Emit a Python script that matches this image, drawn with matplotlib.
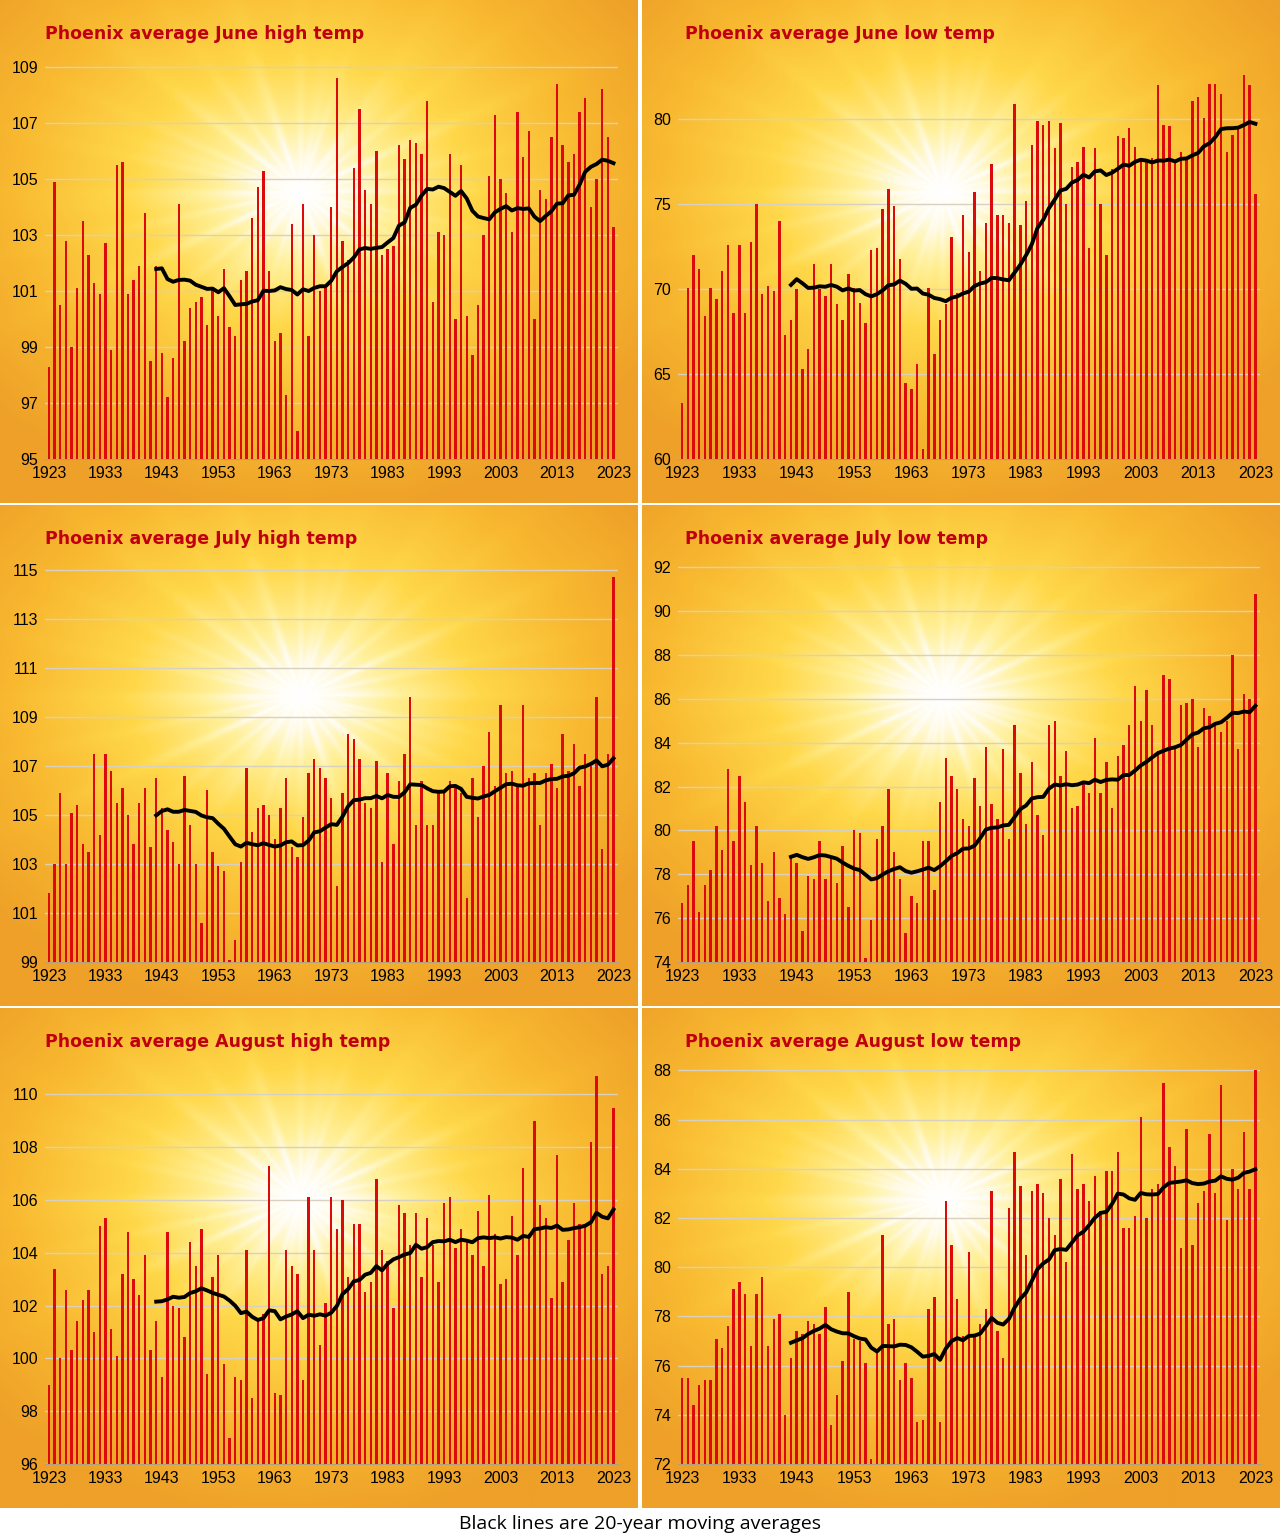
import numpy as np
import matplotlib
matplotlib.use("Agg")
import matplotlib.pyplot as plt
from matplotlib.colors import LinearSegmentedColormap

years = list(range(1923, 2024))

june_high = [98.3,104.9,100.5,102.8,99.0,101.1,103.5,102.3,101.3,100.9,
             102.7,98.9,105.5,105.6,100.9,101.4,101.9,103.8,98.5,101.9,
             98.8,97.2,98.6,104.1,99.2,100.4,100.6,100.8,99.8,101.1,
             100.1,101.8,99.7,99.4,101.4,101.7,103.6,104.7,105.3,101.7,
             99.2,99.5,97.3,103.4,96.0,104.1,99.4,103.0,101.0,101.1,
             104.0,108.6,102.8,102.1,105.4,107.5,104.6,104.1,106.0,102.3,
             102.5,102.6,106.2,105.7,106.4,106.3,105.9,107.8,100.6,103.1,
             103.0,105.9,100.0,105.5,100.1,98.7,100.5,103.0,105.1,107.3,
             105.0,104.5,103.1,107.4,105.8,106.7,100.0,104.6,104.3,106.5,
             108.4,106.2,105.6,105.9,107.4,107.9,104.0,105.0,108.2,106.5,103.3]
june_low = [63.3,70.1,72.0,71.2,68.4,70.1,69.4,71.1,72.6,68.6,
            72.6,68.6,72.8,75.0,69.7,70.2,69.9,74.0,67.3,68.2,
            70.0,65.3,66.5,71.5,70.0,69.6,71.5,69.1,68.2,70.9,
            70.1,69.2,68.0,72.3,72.4,74.7,75.9,74.9,71.8,64.5,
            64.1,65.6,60.6,70.1,66.2,68.2,69.1,73.1,69.8,74.4,
            72.2,75.7,71.1,73.9,77.4,74.4,74.4,73.9,80.9,73.8,
            75.2,78.5,79.9,79.7,79.9,78.3,79.8,75.0,77.2,77.5,
            78.4,72.4,78.3,75.0,72.0,77.1,79.0,78.9,79.5,78.4,
            77.7,77.5,77.7,82.0,79.7,79.6,77.6,78.1,77.6,81.1,
            81.3,80.1,82.1,82.1,81.5,78.1,79.1,79.5,82.6,82.0,75.6]
july_high = [101.8,103.0,105.9,103.0,105.1,105.4,103.8,103.5,107.5,104.2,
             107.5,106.8,105.5,106.1,105.0,103.8,105.5,106.1,103.7,106.5,
             105.3,104.4,103.9,103.0,106.6,104.6,103.0,100.6,106.0,103.5,
             102.9,102.7,99.1,99.9,103.1,106.9,104.3,105.3,105.4,105.0,
             104.0,105.3,106.5,103.7,103.3,104.9,106.7,107.3,106.9,106.5,
             105.7,102.1,105.9,108.3,108.1,107.3,105.5,105.3,107.2,103.1,
             106.7,103.8,106.4,107.5,109.8,104.6,106.4,104.6,104.6,106.0,
             105.9,106.4,106.2,105.9,101.6,106.5,104.9,107.0,108.4,106.2,
             109.5,106.7,106.8,106.2,109.5,106.5,106.7,104.6,106.7,107.1,
             106.1,108.3,106.8,107.9,106.2,107.5,107.0,109.8,103.6,107.5,114.7]
july_low = [76.7,77.5,79.5,76.3,77.5,78.2,80.2,79.1,82.8,79.5,
            82.5,81.3,78.4,80.2,78.5,76.8,79.0,76.9,76.2,78.8,
            78.5,75.4,77.9,77.8,79.5,77.8,78.8,77.6,79.3,76.5,
            80.0,79.9,74.2,75.9,79.6,80.2,81.9,79.0,77.8,75.3,
            77.0,76.7,79.5,79.5,77.3,81.3,83.3,82.5,81.9,80.5,
            80.2,82.4,81.1,83.8,81.2,80.5,83.7,79.6,84.8,82.6,
            80.3,83.1,80.7,79.8,84.8,85.0,82.5,83.6,81.0,81.1,
            82.2,81.7,84.2,81.7,83.1,81.0,83.4,83.9,84.8,86.6,
            85.0,86.4,84.8,83.6,87.1,86.9,83.7,85.7,85.8,86.0,
            83.8,85.6,85.2,84.8,84.5,85.0,88.0,83.7,86.2,86.0,90.8]
aug_high = [99.0,103.4,100.0,102.6,100.3,101.4,102.2,102.6,101.0,105.0,
            105.3,101.1,100.1,103.2,104.8,103.0,102.4,103.9,100.3,101.4,
            99.3,104.8,102.0,101.9,100.8,104.4,103.5,104.9,99.4,103.1,
            103.9,99.8,97.0,99.3,99.2,104.1,98.5,101.5,101.7,107.3,
            98.7,98.6,104.1,103.5,103.2,99.2,106.1,104.1,100.5,102.1,
            106.1,104.9,106.0,103.1,105.1,105.1,102.5,102.9,106.8,104.1,
            103.7,101.9,105.8,105.5,104.3,105.5,103.1,105.3,104.3,102.9,
            105.9,106.1,104.2,104.9,104.4,103.9,105.6,103.5,106.2,104.7,
            102.8,103.0,105.4,103.9,107.2,104.7,109.0,105.8,105.3,102.3,
            107.7,102.9,104.5,105.9,105.1,105.0,108.2,110.7,103.2,103.5,109.5]
aug_low = [75.5,75.5,74.4,75.2,75.4,75.4,77.1,76.7,77.6,79.1,
           79.4,78.9,76.8,78.9,79.6,76.8,77.9,78.1,74.0,76.3,
           77.4,77.3,77.8,77.7,77.3,78.4,73.6,74.8,76.2,79.0,
           77.1,77.0,76.1,72.2,76.5,81.3,77.7,77.9,75.4,76.1,
           75.5,73.7,73.8,78.3,78.8,73.7,82.7,80.9,78.7,77.2,
           80.6,77.3,77.7,78.3,83.1,77.4,76.3,82.4,84.7,83.3,
           80.5,83.1,83.4,83.0,82.0,81.3,83.6,80.2,84.6,83.2,
           83.4,82.7,83.7,82.3,83.9,83.9,84.7,81.6,81.6,82.1,
           86.1,82.0,83.2,83.4,87.5,84.9,84.1,80.8,85.6,80.9,
           82.6,83.1,85.4,83.0,87.4,81.9,84.0,83.2,85.5,83.2,88.0]

titles = ["Phoenix average June high temp", "Phoenix average June low temp",
          "Phoenix average July high temp", "Phoenix average July low temp",
          "Phoenix average August high temp", "Phoenix average August low temp"]
series = [june_high, june_low, july_high, july_low, aug_high, aug_low]
ylims = [(95, 109.25), (60, 83.5), (99, 115.2), (74, 92.1), (96, 111), (72, 88.1)]
yticks = [np.arange(95, 110, 2), np.arange(60, 81, 5), np.arange(99, 116, 2),
          np.arange(74, 93, 2), np.arange(96, 111, 2), np.arange(72, 89, 2)]
xticks = list(range(1923, 2024, 10))

W, H = 1280, 1540
fig = plt.figure(figsize=(W/100, H/100), dpi=100)
fig.patch.set_facecolor("white")

cmap = LinearSegmentedColormap.from_list("sun", [
    (0.0, "#ffffff"), (0.08, "#fffbe8"), (0.2, "#fff09a"),
    (0.4, "#ffd84a"), (0.7, "#f8b830"), (1.0, "#eea028")])

panel_w = [(0, 638), (642, 1280)]
panel_h = [(0, 503), (505, 1006), (1008, 1508)]
left_off = [45, 36]
title_x = [45, 43]

yy, xx = np.mgrid[0:300, 0:380]
for i in range(6):
    r, c = divmod(i, 2)
    x0, x1 = panel_w[c]
    y0, y1 = panel_h[r]
    bg = fig.add_axes([x0/W, 1-y1/H, (x1-x0)/W, (y1-y0)/H])
    cx, cy = 0.47*380, 0.38*300
    dx, dy = (xx-cx)/380, (yy-cy)/300
    d = np.sqrt(dx**2 + dy**2)
    ang = np.arctan2(dy, dx)
    rays = 0.05*np.cos(ang*12)**8 + 0.04*np.cos(ang*7+0.5)**10
    v = np.clip(d*1.55 - rays*(1-np.clip(d*1.3, 0, 1)), 0, 1)
    bg.imshow(v, cmap=cmap, vmin=0, vmax=1, aspect="auto", extent=[0, 1, 0, 1])
    bg.axis("off")

    ph = y1-y0
    lo_px = left_off[c]
    ax = fig.add_axes([(x0+lo_px)/W, 1-(y1-44)/H, (x1-x0-lo_px-20)/W, (ph-44-60)/H])
    ax.patch.set_alpha(0)
    vals = np.array(series[i])
    lo = ylims[i][0]
    ax.bar(years, vals-lo, bottom=lo, width=0.42, color="#dc0a0a", zorder=3)
    ma = np.convolve(vals, np.ones(20)/20, mode="valid")
    ax.plot(years[19:], ma, color="black", lw=2.8, zorder=4)
    ax.set_ylim(*ylims[i])
    ax.set_xlim(1922.3, 2023.8)
    ax.set_yticks(yticks[i])
    ax.set_xticks(xticks)
    ax.grid(axis="y", color="#d8d0c0", lw=1, zorder=0)
    for s in ["top", "right", "left"]:
        ax.spines[s].set_visible(False)
    ax.spines["bottom"].set_color("#b0a080")
    ax.tick_params(length=0, labelsize=11.5, colors="black", pad=5)
    for lab in ax.get_xticklabels() + ax.get_yticklabels():
        lab.set_fontfamily("Liberation Sans")
    fig.text((x0+title_x[c])/W, 1-(y0+34)/H, titles[i], color="#c00010",
             fontsize=12.5, fontweight="bold", va="center", ha="left")

fig.text(0.5, 1-1524/H, "Black lines are 20-year moving averages",
         ha="center", va="center", fontsize=14, family="Open Sans")
fig.savefig("out.png", dpi=100)
